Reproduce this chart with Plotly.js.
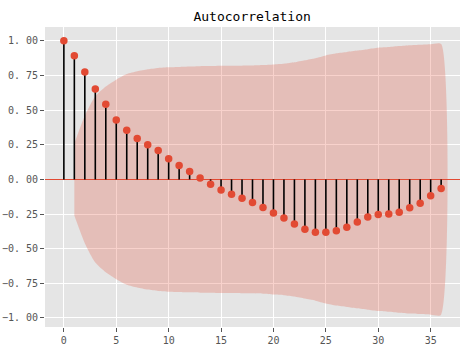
<!DOCTYPE html>
<html>
<head>
<meta charset="utf-8">
<script src="https://cdn.plot.ly/plotly-3.0.1.min.js"></script>
<style>html,body{margin:0;padding:0;background:#fff;}#chart{width:474px;height:355px;}</style>
</head>
<body>
<div id="chart"></div>
<script>
const lags = [0,1,2,3,4,5,6,7,8,9,10,11,12,13,14,15,16,17,18,19,20,21,22,23,24,25,26,27,28,29,30,31,32,33,34,35,36];
const acfValues = [1.00,0.893,0.775,0.652,0.543,0.428,0.355,0.295,0.251,0.208,0.150,0.101,0.058,0.010,-0.034,-0.076,-0.107,-0.135,-0.167,-0.203,-0.242,-0.278,-0.321,-0.360,-0.382,-0.382,-0.370,-0.345,-0.307,-0.271,-0.254,-0.249,-0.237,-0.205,-0.172,-0.118,-0.065];
const bandLags = [1,2,3,4,5,6,7,8,9,10,11,12,13,14,15,16,17,18,19,20,21,22,23,24,25,26,27,28,29,30,31,32,33,34,35,36];
const bandHalfWidth = [0.26,0.46,0.60,0.67,0.72,0.76,0.78,0.795,0.805,0.81,0.812,0.815,0.817,0.818,0.82,0.82,0.821,0.822,0.825,0.83,0.835,0.845,0.86,0.875,0.895,0.91,0.92,0.93,0.94,0.95,0.955,0.962,0.968,0.972,0.976,0.978];
const xTicks = [0,5,10,15,20,25,30,35];
const yTicks = [-1.00,-0.75,-0.50,-0.25,0.00,0.25,0.50,0.75,1.00];
const yTickText = ["\u22121. 00","\u22120. 75","\u22120. 50","\u22120. 25","0. 00","0. 25","0. 50","0. 75","1. 00"];

const red = '#E24A33';

// confidence band
const bandX = bandLags.concat(bandLags.slice().reverse());
const bandY = bandHalfWidth.concat(bandHalfWidth.slice().reverse().map(v => -v));

// stems
const stemX = [], stemY = [];
lags.forEach((l, i) => { stemX.push(l, l, null); stemY.push(0, acfValues[i], null); });

const traces = [
  {x: bandX, y: bandY, type: 'scatter', mode: 'lines', fill: 'toself',
   fillcolor: 'rgba(226,74,51,0.25)', line: {width: 0, shape: 'spline', smoothing: 0.6}, hoverinfo: 'skip'},
  {x: stemX, y: stemY, type: 'scatter', mode: 'lines', line: {color: '#000', width: 1.6}, hoverinfo: 'skip'},
  {x: lags, y: acfValues, type: 'scatter', mode: 'markers', marker: {color: red, size: 7.5}}
];

const tickFont = {family: 'DejaVu Sans Mono, monospace', size: 10, color: '#555'};
const layout = {
  width: 474, height: 355,
  margin: {l: 45, r: 14, t: 27, b: 28},
  paper_bgcolor: '#fff', plot_bgcolor: '#E5E5E5',
  showlegend: false,
  title: {text: 'Autocorrelation', x: 0.532, xanchor: 'center', y: 0.955, yanchor: 'middle',
          font: {family: 'DejaVu Sans Mono, monospace', size: 13, color: '#000'}},
  xaxis: {range: [-1.8, 37.8], tickvals: xTicks, ticktext: xTicks.map(String), showgrid: true, gridcolor: '#fff', gridwidth: 1,
          zeroline: false, ticks: 'outside', ticklen: 4, tickcolor: '#555', tickfont: tickFont, showline: false},
  yaxis: {range: [-1.065, 1.10], tickvals: yTicks, ticktext: yTickText, showgrid: true, gridcolor: '#fff', gridwidth: 1,
          zeroline: true, zerolinecolor: red, zerolinewidth: 1.6,
          ticks: 'outside', ticklen: 4, tickcolor: '#555', tickfont: tickFont, showline: false}
};

Plotly.newPlot('chart', traces, layout, {displayModeBar: false, staticPlot: true});
</script>
</body>
</html>
